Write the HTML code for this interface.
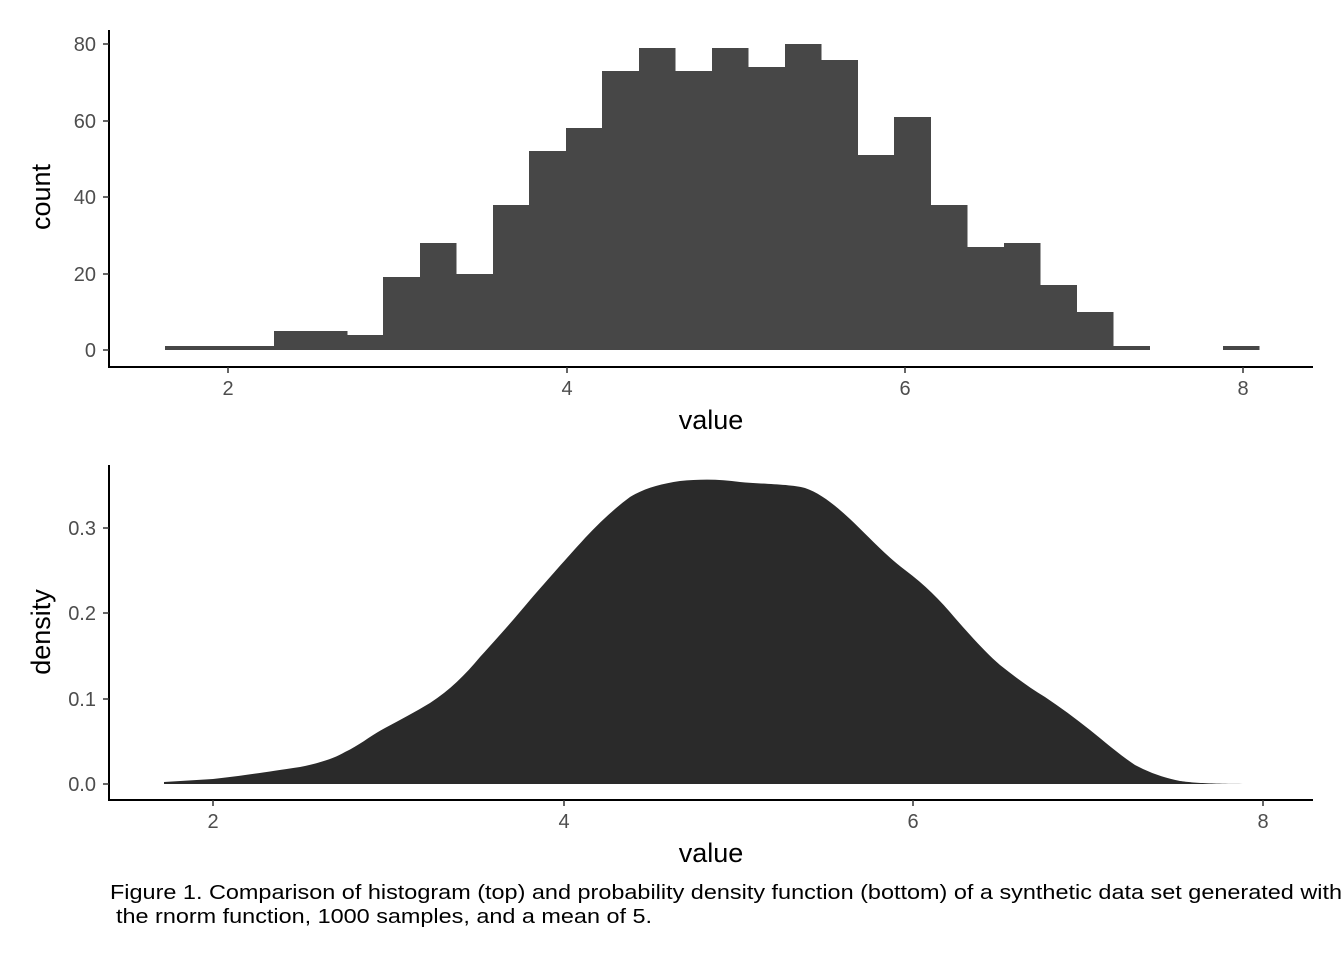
<!DOCTYPE html>
<html><head><style>body{margin:0;background:#fff}svg{display:block}</style></head><body>
<svg width="1344" height="960" xmlns="http://www.w3.org/2000/svg" font-family="Liberation Sans, sans-serif">
<rect width="1344" height="960" fill="#fff"/>
<g fill="#474747">
<rect x="165" y="346" width="36.5" height="4"/>
<rect x="201" y="346" width="37" height="4"/>
<rect x="238" y="346" width="36.5" height="4"/>
<rect x="274" y="331" width="37" height="19"/>
<rect x="311" y="331" width="36.5" height="19"/>
<rect x="347" y="335" width="36.5" height="15"/>
<rect x="383" y="277" width="37" height="73"/>
<rect x="420" y="243" width="36.5" height="107"/>
<rect x="456" y="274" width="37" height="76"/>
<rect x="493" y="205" width="36.5" height="145"/>
<rect x="529" y="151" width="37" height="199"/>
<rect x="566" y="128" width="36.5" height="222"/>
<rect x="602" y="71" width="37" height="279"/>
<rect x="639" y="48" width="36.5" height="302"/>
<rect x="675" y="71" width="37" height="279"/>
<rect x="712" y="48" width="36.5" height="302"/>
<rect x="748" y="67" width="37" height="283"/>
<rect x="785" y="44" width="36.5" height="306"/>
<rect x="821" y="60" width="37" height="290"/>
<rect x="858" y="155" width="36.5" height="195"/>
<rect x="894" y="117" width="37" height="233"/>
<rect x="931" y="205" width="36.5" height="145"/>
<rect x="967" y="247" width="37" height="103"/>
<rect x="1004" y="243" width="36.5" height="107"/>
<rect x="1040" y="285" width="37" height="65"/>
<rect x="1077" y="312" width="36.5" height="38"/>
<rect x="1113" y="346" width="37" height="4"/>
<rect x="1223" y="346" width="36.5" height="4"/>
</g>
<g stroke="#000" stroke-width="2" fill="none">
<path d="M109 30V367H1313"/>
<path d="M109 465V800H1313"/>
</g>
<g stroke="#333" stroke-width="1.5">
<path d="M103 350H109M103 274H109M103 197H109M103 121H109M103 44H109"/>
<path d="M228 367V373M567 367V373M905 367V373M1243 367V373"/>
<path d="M103 784H109M103 699H109M103 613H109M103 528H109"/>
<path d="M213 800V806M564 800V806M913 800V806M1263 800V806"/>
</g>
<g fill="#4d4d4d" font-size="20" text-anchor="end">
<text x="96" y="357">0</text><text x="96" y="281">20</text><text x="96" y="204">40</text><text x="96" y="128">60</text><text x="96" y="51">80</text>
<text x="96" y="791">0.0</text><text x="96" y="706">0.1</text><text x="96" y="620">0.2</text><text x="96" y="535">0.3</text>
</g>
<g fill="#4d4d4d" font-size="20" text-anchor="middle">
<text x="228" y="395">2</text><text x="567" y="395">4</text><text x="905" y="395">6</text><text x="1243" y="395">8</text>
<text x="213" y="828">2</text><text x="564" y="828">4</text><text x="913" y="828">6</text><text x="1263" y="828">8</text>
</g>
<path fill="#2a2a2a" d="M164 782 L213 779 C240 776 260 773 300 767 C320 763 335 758 345 752 C360 745 370 736 385 728 C400 720 415 712 430 703 C450 690 465 675 480 657 C500 635 515 618 530 600 C550 577 565 560 585 538 C600 522 615 508 630 497 C645 488 660 484 680 481 C700 479 720 479 740 482 C760 484 790 484 805 488 C820 493 835 505 850 519 C865 533 885 555 905 570 C925 585 940 600 955 618 C970 635 985 652 1000 665 C1015 677 1030 688 1045 697 C1060 707 1075 718 1090 730 C1105 742 1120 755 1135 765 C1150 773 1165 778 1180 781 C1195 783 1210 784 1260 784 L1260 784 L164 784 Z"/>
<g font-size="27" fill="#000" text-anchor="middle">
<text x="711" y="429">value</text>
<text x="711" y="862">value</text>
<text transform="translate(50 197) rotate(-90)">count</text>
<text transform="translate(50 632) rotate(-90)">density</text>
</g>
<g font-size="20" fill="#000">
<text x="110" y="899" textLength="1232" lengthAdjust="spacingAndGlyphs">Figure 1. Comparison of histogram (top) and probability density function (bottom) of a synthetic data set generated with</text>
<text x="116" y="923" textLength="536" lengthAdjust="spacingAndGlyphs">the rnorm function, 1000 samples, and a mean of 5.</text>
</g>
</svg>
</body></html>
